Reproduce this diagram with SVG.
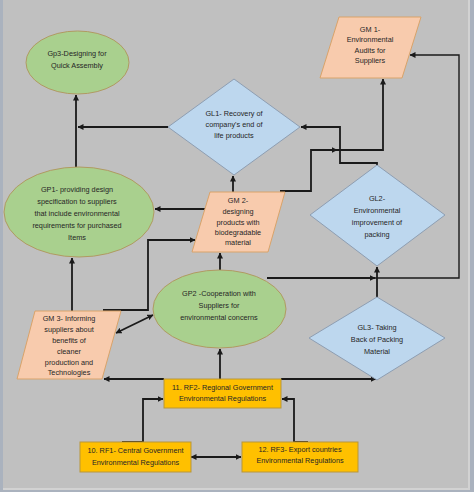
<svg xmlns="http://www.w3.org/2000/svg" width="474" height="492" viewBox="0 0 474 492">
<style>
  .t { font-family: "Liberation Sans", Arial, sans-serif; font-size: 7.3px; fill: #262626; text-anchor: middle; }
  .gp { fill: #a9d08e; stroke: #b09a62; stroke-width: 1; }
  .gm { fill: #f8cbad; stroke: #d9a36a; stroke-width: 1; }
  .gl { fill: #bdd7ee; stroke: #8e9eb2; stroke-width: 1; }
  .rf { fill: #ffc000; stroke: #b8963a; stroke-width: 1; }
  .c { fill: none; stroke: #1a1a1a; stroke-width: 1.8; }
  .a { marker-end: url(#arr); }
  .b { marker-start: url(#arr); marker-end: url(#arr); }
</style>
<defs>
  <marker id="arr" viewBox="0 0 6 6" refX="5.5" refY="3" markerWidth="6" markerHeight="6" markerUnits="userSpaceOnUse" orient="auto-start-reverse">
    <path d="M0,0 L6,3 L0,6 z" fill="#1a1a1a"/>
  </marker>
</defs>
<rect x="0" y="0" width="474" height="492" fill="#aab2be"/>
<rect x="3" y="0" width="467" height="490" fill="#d2d2d2"/>
<rect x="3" y="0" width="465" height="488" fill="#c0c0c0"/>

<g id="connectors">
  <path class="c a" d="M76,167 V95"/>
  <path class="c a" d="M168,127 H78"/>
  <path class="c a" d="M233,192 V176"/>
  <path class="c a" d="M205,209 H155"/>
  <path class="c a" d="M280,191 H311 V150 H337"/>
  <path class="c a" d="M337,150 H383 V79"/>
  <path class="c a" d="M377,165 V163 H340 V127 H301"/>
  <path class="c a" d="M72,311 V258"/>
  <path class="c a" d="M103,310 H148 V240 H195"/>
  <path class="c b" d="M116,333 L153,315"/>
  <path class="c a" d="M220,270 V253"/>
  <path class="c a" d="M267,278 H375"/>
  <path class="c a" d="M375,278 H459 V55 H410" style="stroke-width:1.4"/>
  <path class="c a" d="M377,297 V267"/>
  <path class="c a" d="M220,379 V349"/>
  <path class="c a" d="M164,379 H104"/>
  <path class="c a" d="M281,379 H376"/>
  <path class="c a" d="M122,442 H143 V399 H163"/>
  <path class="c b" d="M191,457 H241"/>
  <path class="c a" d="M308,442 H294 V399 H282"/>
</g>

<g id="gp3">
  <ellipse class="gp" cx="77.5" cy="62.5" rx="51.5" ry="31.5"/>
  <text class="t" x="77" y="55.5">Gp3-Designing for</text>
  <text class="t" x="77" y="68">Quick Assembly</text>
</g>

<g id="gl1">
  <polygon class="gl" points="168,127 234,79 300,127 234,175"/>
  <text class="t" x="234" y="115.5">GL1- Recovery of</text>
  <text class="t" x="234" y="126.5">company's end of</text>
  <text class="t" x="234" y="137.5">life products</text>
</g>

<g id="gm1">
  <polygon class="gm" points="339,17 421,17 402,78 320,78"/>
  <text class="t" x="370" y="31.5">GM 1-</text>
  <text class="t" x="370" y="42">Environmental</text>
  <text class="t" x="370" y="52.5">Audits for</text>
  <text class="t" x="370" y="63">Suppliers</text>
</g>

<g id="gl2">
  <polygon class="gl" points="310,215 377,165 445,215 377,266"/>
  <text class="t" x="377" y="200.5">GL2-</text>
  <text class="t" x="377" y="212.5">Environmental</text>
  <text class="t" x="377" y="224.5">improvement of</text>
  <text class="t" x="377" y="236.5">packing</text>
</g>

<g id="gp1">
  <ellipse class="gp" cx="79" cy="212" rx="75" ry="45"/>
  <text class="t" x="77" y="191.5">GP1- providing design</text>
  <text class="t" x="77" y="204">specification to suppliers</text>
  <text class="t" x="77" y="215.5">that include environmental</text>
  <text class="t" x="77" y="227.5">requirements for purchased</text>
  <text class="t" x="77" y="239.5">Items</text>
</g>

<g id="gm2">
  <polygon class="gm" points="210,192 285,192 268,252 192,252"/>
  <text class="t" x="238" y="202.5">GM 2-</text>
  <text class="t" x="238" y="213.5">designing</text>
  <text class="t" x="238" y="224.5">products with</text>
  <text class="t" x="238" y="234.5">biodegradable</text>
  <text class="t" x="238" y="244.5">material</text>
</g>

<g id="gm3">
  <polygon class="gm" points="35,311 121,311 102,379 17,379"/>
  <text class="t" x="69" y="320.5">GM 3- Informing</text>
  <text class="t" x="69" y="331.5">suppliers about</text>
  <text class="t" x="69" y="342.5">benefits of</text>
  <text class="t" x="69" y="353.5">cleaner</text>
  <text class="t" x="69" y="364.5">production and</text>
  <text class="t" x="69" y="374.5">Technologies</text>
</g>

<g id="gp2">
  <ellipse class="gp" cx="219.5" cy="309" rx="66.5" ry="39"/>
  <text class="t" x="219" y="295.5">GP2 -Cooperation with</text>
  <text class="t" x="219" y="307.5">Suppliers for</text>
  <text class="t" x="219" y="319.5">environmental concerns</text>
</g>

<g id="gl3">
  <polygon class="gl" points="309,338 377,297 445,338 377,380"/>
  <text class="t" x="377" y="329.5">GL3- Taking</text>
  <text class="t" x="377" y="341.5">Back of Packing</text>
  <text class="t" x="377" y="353.5">Material</text>
</g>

<g id="rf2">
  <rect class="rf" x="164" y="379" width="117" height="29"/>
  <text class="t" x="222.5" y="389.5">11. RF2- Regional Government</text>
  <text class="t" x="222.5" y="400.5">Environmental Regulations</text>
</g>

<g id="rf1">
  <rect class="rf" x="80" y="442" width="111" height="30"/>
  <text class="t" x="135.5" y="452.5">10. RF1- Central Government</text>
  <text class="t" x="135.5" y="464.5">Environmental Regulations</text>
</g>

<g id="rf3">
  <rect class="rf" x="242" y="442" width="116" height="30"/>
  <text class="t" x="300" y="451.5">12. RF3- Export countries</text>
  <text class="t" x="300" y="462.5">Environmental Regulations</text>
</g>
</svg>
